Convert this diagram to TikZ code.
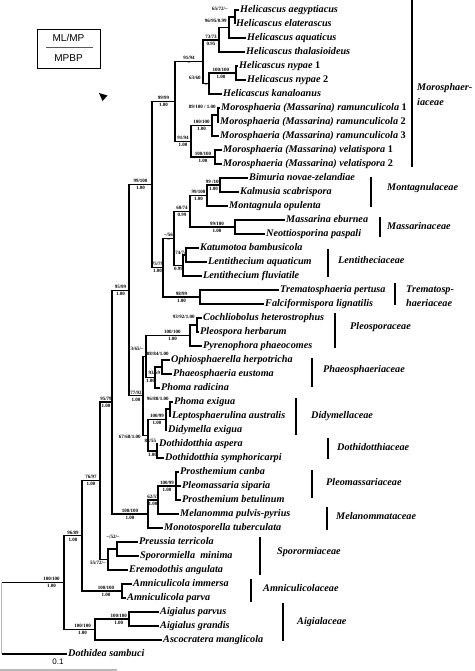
\documentclass[tikz,border=0pt]{standalone}
\usepackage{fontspec}
\setmainfont{Liberation Serif}
\newfontfamily\legendfont{Liberation Sans}
\usepackage{tikz}
\tikzstyle{taxon} = [anchor=west, inner sep=1pt, text height=7pt, text depth=2pt, font=\fontsize{10.2}{12}\selectfont\bfseries\itshape]
\tikzstyle{famname} = [taxon, inner sep=0pt]
\tikzstyle{supp} = [inner sep=1.3pt, font=\fontsize{5}{5}\selectfont\bfseries]
\tikzset{
  branch/.style ={draw, line width=1.1pt},
  famline/.style ={draw, line width=2pt}
}

\begin{document}
\begin{tikzpicture}[x=1pt,y=-1pt]
\useasboundingbox (0,0) rectangle (474,671);
% legend
\node[draw, line width=0.6pt, minimum width=63, minimum height=39, inner sep=0pt] (legend) at (68.5,48.5) {};
\node[font=\legendfont\fontsize{10}{12}\selectfont] (lgml) at (68.5,38) {ML/MP};
\node[font=\legendfont\fontsize{10}{12}\selectfont] (lgbp) at (68.5,58.5) {MPBP};
\draw[line width=1pt, gray!70!black] (46,47.5) -- (93,47.5);
\fill (99,93) -- (107.5,95.5) -- (102.5,101) -- cycle;
% taxa
\foreach \n/\x/\i/\t in {
  aeg/240/1/{Helicascus aegyptiacus},
  ela/236/2/{Helicascus elaterascus},
  aqu/247/3/{Helicascus aquaticus},
  tha/246/4/{Helicascus thalasioideus},
  ny1/239/5/{Helicascus nypae \textup{1}},
  ny2/247/6/{Helicascus nypae \textup{2}},
  kan/223/7/{Helicascus kanaloanus},
  ra1/221/8/{Morosphaeria (Massarina) ramunculicola \textup{1}},
  ra2/220/9/{Morosphaeria (Massarina) ramunculicola \textup{2}},
  ra3/220/10/{Morosphaeria (Massarina) ramunculicola \textup{3}},
  ve1/223/11/{Morosphaeria (Massarina) velatispora \textup{1}},
  ve2/223/12/{Morosphaeria (Massarina) velatispora \textup{2}},
  bim/249/13/{Bimuria novae-zelandiae},
  kal/240/14/{Kalmusia scabrispora},
  mop/229/15/{Montagnula opulenta},
  meb/286/16/{Massarina eburnea},
  neo/266/17/{Neottiosporina paspali},
  kat/200/18/{Katumotoa bambusicola},
  laq/208/19/{Lentithecium aquaticum},
  lfl/203/20/{Lentithecium fluviatile},
  tpe/280/21/{Trematosphaeria pertusa},
  fli/265/22/{Falciformispora lignatilis},
  che/203/23/{Cochliobolus heterostrophus},
  phe/200/24/{Pleospora herbarum},
  pph/203/25/{Pyrenophora phaeocomes},
  ohe/171/26/{Ophiosphaerella herpotricha},
  peu/173/27/{Phaeosphaeria eustoma},
  pra/161/28/{Phoma radicina},
  pex/174/29/{Phoma exigua},
  lau/172/30/{Leptosphaerulina australis},
  dex/168/31/{Didymella exigua},
  das/159/32/{Dothidotthia aspera},
  dsy/165/33/{Dothidotthia symphoricarpi},
  pca/180/34/{Prosthemium canba},
  psi/182/35/{Pleomassaria siparia},
  pbe/182/36/{Prosthemium betulinum},
  mpp/180/37/{Melanomma pulvis-pyrius},
  mtu/164/38/{Monotosporella tuberculata},
  pte/139/39/{Preussia terricola},
  smi/140/40/{Sporormiella\ \ minima},
  ean/129/41/{Eremodothis angulata},
  aim/133/42/{Amniculicola immersa},
  apa/127/43/{Amniculicola parva},
  apv/160/44/{Aigialus parvus},
  agr/160/45/{Aigialus grandis},
  ama/163/46/{Ascocratera manglicola},
  dsa/68/47/{Dothidea sambuci}}
  \node[taxon] (\n) at (\x-1,{10+14*(\i-1)}) {\t};
% internal nodes
\foreach \n/\x/\y in {hAE/235/17, hAQ/229/27.5, hTH/219/40, hNY/236/73, hKA/209/83.5,
  hel/203/61.75, mR12/218/115, mR/212/125.5, mV/215/157, mor/191/141.25, fMor/175/101.5,
  mBK/220/185, mont/207/195.5, mass/235/227, mMM/190/211.25, lKA/186/255, lent/183/265.5,
  mLe/174/238.4, trem/200/297, nG/163/267.7, nF/152/184.6, pCP/197/325, pleo/190/335.5,
  phOP/162/367, phae/155/377.5, nQ/146/356.5, dPL/170/409, didy/166/419.5, doth/157/451,
  nDD/148/435.25, nP/143/395.9, nE/129/290.25, pmas/176/486, nPM/158/500, nMP/148/514,
  nD/112/402, sPS/117/549, spor/108/559.5, nC/100/480.75, amni/122/591, nB/82/535.9,
  aAG/129/619, aig/95/629.5, nA/64/582.7, root/1.5/618}
  \coordinate (\n) at (\x,\y);
% plain branches
\foreach \p/\c in {hAE/aeg, hAE/ela, hAQ/hAE, hAQ/aqu, hTH/hAQ, hTH/tha, hNY/ny1, hNY/ny2,
  hKA/kan, mR12/ra1, mR12/ra2, mR/mR12, mR/ra3, mV/ve1, mV/ve2, mBK/bim, mBK/kal, mont/mop,
  mass/meb, mass/neo, lKA/kat, lKA/laq, lent/lKA, lent/lfl, trem/tpe, trem/fli, pCP/che,
  pCP/phe, pleo/pCP, pleo/pph, phOP/ohe, phOP/peu, phae/phOP, phae/pra, dPL/pex, dPL/lau,
  didy/dPL, didy/dex, doth/das, doth/dsy, nP/nQ, nP/nDD, pmas/pca, pmas/psi, pmas/pbe,
  nPM/mpp, nMP/mtu, sPS/pte, sPS/smi, spor/sPS, spor/ean, nC/spor, amni/aim, amni/apa,
  aAG/apv, aAG/agr, aig/ama}
  \draw[branch] (\p) |- (\c);
% branches with support values
\draw[branch] (hel) |- node[supp,above,pos=.75] (s1a) {73/73} node[supp,below,pos=.75] (s1b) {0.95} (hTH);
\draw[branch] (hKA) |- node[supp,above,pos=.72] (s2a) {100/100} node[supp,below,pos=.72] (s2b) {1.00} (hNY);
\draw[branch] (hel) |- node[supp,below,pos=.75] (s3b) {--} (hKA);
\draw[branch] (fMor) |- node[supp,above,pos=.75] (s4a) {91/94} node[supp,below,pos=.75] (s4b) {--} (hel);
\draw[branch] (mor) |- node[supp,above,pos=.75] (s5a) {100/100} node[supp,below,pos=.75] (s5b) {1.00} (mR);
\draw[branch] (mor) |- node[supp,above,pos=.75] (s6a) {100/100} node[supp,below,pos=.75] (s6b) {1.00} (mV);
\draw[branch] (fMor) |- node[supp,above,pos=.75] (s7a) {91/94} node[supp,below,pos=.75] (s7b) {1.00} (mor);
\draw[branch] (nF) |- node[supp,above,pos=.75] (s8a) {99/99} node[supp,below,pos=.75] (s8b) {1.00} (fMor);
\draw[branch] (nE) |- node[supp,above,pos=.75] (s9a) {99/100} node[supp,below,pos=.75] (s9b) {1.00} (nF);
\draw[branch] (mont) |- node[supp,above,pos=.75] (s10a) {99 /100} node[supp,below,pos=.75] (s10b) {1.00} (mBK);
\draw[branch] (mMM) |- node[supp,above,pos=.75] (s11a) {99/100} node[supp,below,pos=.75] (s11b) {1.00} (mont);
\draw[branch] (mMM) |- node[supp,above,pos=.8] (s12a) {99/100} node[supp,below,pos=.8] (s12b) {1.00} (mass);
\draw[branch] (mLe) |- node[supp,above,pos=.75] (s13a) {60/74} node[supp,below,pos=.75] (s13b) {0.99} (mMM);
\draw[branch] (mLe) |- node[supp,below,pos=.75] (s14b) {0.99} (lent);
\draw[branch] (nG) |- node[supp,above,pos=.75] (s15a) {--/56} node[supp,below,pos=.75] (s15b) {--} (mLe);
\draw[branch] (nG) |- node[supp,above,pos=.75] (s16a) {98/99} node[supp,below,pos=.75] (s16b) {1.00} (trem);
\draw[branch] (nF) |- node[supp,above,pos=.75] (s17a) {75/79} node[supp,below,pos=.75] (s17b) {1.00} (nG);
\draw[branch] (nQ) |- node[supp,above,pos=.8] (s18a) {100/100} node[supp,below,pos=.8] (s18b) {1.00} (pleo);
\draw[branch] (nQ) |- node[supp,below,pos=.75] (s19b) {1.00} (phae);
\draw[branch] (nDD) |- node[supp,above,pos=.75] (s20a) {100/99} node[supp,below,pos=.75] (s20b) {1.00} (didy);
\draw[branch] (nDD) |- node[supp,below,pos=.75] (s21b) {1.00} (doth);
\draw[branch] (nE) |- node[supp,above,pos=.75] (s22a) {77/92} node[supp,below,pos=.75] (s22b) {1.00} (nP);
\draw[branch] (nD) |- node[supp,above,pos=.75] (s23a) {95/99} node[supp,below,pos=.75] (s23b) {1.00} (nE);
\draw[branch] (nPM) |- node[supp,above,pos=.75] (s24a) {100/99} node[supp,below,pos=.75] (s24b) {1.00} (pmas);
\draw[branch] (nMP) |- node[supp,above,pos=.75] (s25a) {62/57} node[supp,below,pos=.75] (s25b) {1.00} (nPM);
\draw[branch] (nD) |- node[supp,above,pos=.75] (s26a) {100/100} node[supp,below,pos=.75] (s26b) {1.00} (nMP);
\draw[branch] (nC) |- node[supp,above,pos=.75] (s27a) {95/79} node[supp,below,pos=.75] (s27b) {1.00} (nD);
\draw[branch] (nB) |- node[supp,above,pos=.75] (s28a) {76/97} node[supp,below,pos=.75] (s28b) {1.00} (nC);
\draw[branch] (nB) |- node[supp,above,pos=.8] (s29a) {100/100} node[supp,below,pos=.8] (s29b) {1.00} (amni);
\draw[branch] (nA) |- node[supp,above,pos=.75] (s30a) {96/89} node[supp,below,pos=.75] (s30b) {1.00} (nB);
\draw[branch] (aig) |- node[supp,above,pos=.85] (s31a) {100/100} node[supp,below,pos=.85] (s31b) {1.00} (aAG);
\draw[branch] (nA) |- node[supp,above,pos=.8] (s32a) {100/100} node[supp,below,pos=.8] (s32b) {1.00} (aig);
\draw[branch] (root |- nA) -- node[supp,above,pos=.8] (s33a) {100/100} node[supp,below,pos=.8] (s33b) {1.00} (nA);
\draw[branch] (root |- dsa) -- (dsa);
\draw[branch, gray!55] (root |- nA) -- (root |- dsa);
% support values beside nodes
\node[supp, anchor=east] (s34) at (229,9) {65/72/--};
\node[supp, anchor=east] (s35) at (228,21) {96/95/0.99};
\node[supp, anchor=east] (s36) at (202,78) {63/60};
\node[supp, anchor=east] (s37) at (217,107) {89/100 / 1.00};
\node[supp] (s38) at (181,253) {74/74};
\node[supp, anchor=east] (s39) at (196,317) {93/92/1.00};
\node[supp, anchor=east] (s40) at (145,349) {13/65/--};
\node[supp, anchor=south east] (s41) at (170,357) {88/84/1.00};
\node[supp, anchor=east] (s42) at (161.5,372.5) {93/69};
\node[supp, anchor=east] (s43) at (170,399) {96/88/1.00};
\node[supp, anchor=east] (s44) at (142,437) {67/68/1.00};
\node[supp, anchor=east] (s45) at (157.5,441) {88/55};
\node[supp] (s46) at (113,537) {--/52/--};
\node[supp, anchor=east] (s47) at (107,563) {55/72/--};
% families
\foreach \n/\x/\y/\t in {fMo1/417/88/Morosphaer-, fMo2/417/103/iaceae, fMon/387/188/Montagnulaceae,
  fMas/387/227/Massarinaceae, fLen/338/261/Lentitheciaceae, fTr1/406/290/Trematosp-,
  fTr2/406/304/haeriaceae, fPle/350/327/Pleosporaceae, fPha/323/370/Phaeosphaeriaceae,
  fDid/311/416/Didymellaceae, fDot/337/448/Dothidotthiaceae, fPlm/326/483/Pleomassariaceae,
  fMel/336/517/Melanommataceae, fSpo/277/552/Sporormiaceae, fAmn/263/589/Amniculicolaceae,
  fAig/297/622/Aigialaceae}
  \node[famname] (\n) at (\x,\y) {\t};
\foreach \x/\a/\b in {412/0/167, 371/177/207, 380/217/237, 328/249/277, 395/283/305,
  335/313/348, 312/358/387, 296/398/435, 328/438/459, 312/470/498, 327/507/530,
  260/537/575, 251/579/602, 283/603/641}
  \draw[famline] (\x,\a) -- (\x,\b);
% scale bar
\node[font=\legendfont\fontsize{8}{9}\selectfont] (scale) at (58,662) {0.1};
\draw[gray!55, line width=2.2pt] (0,670) -- (117,670);
\end{tikzpicture}
\end{document}
